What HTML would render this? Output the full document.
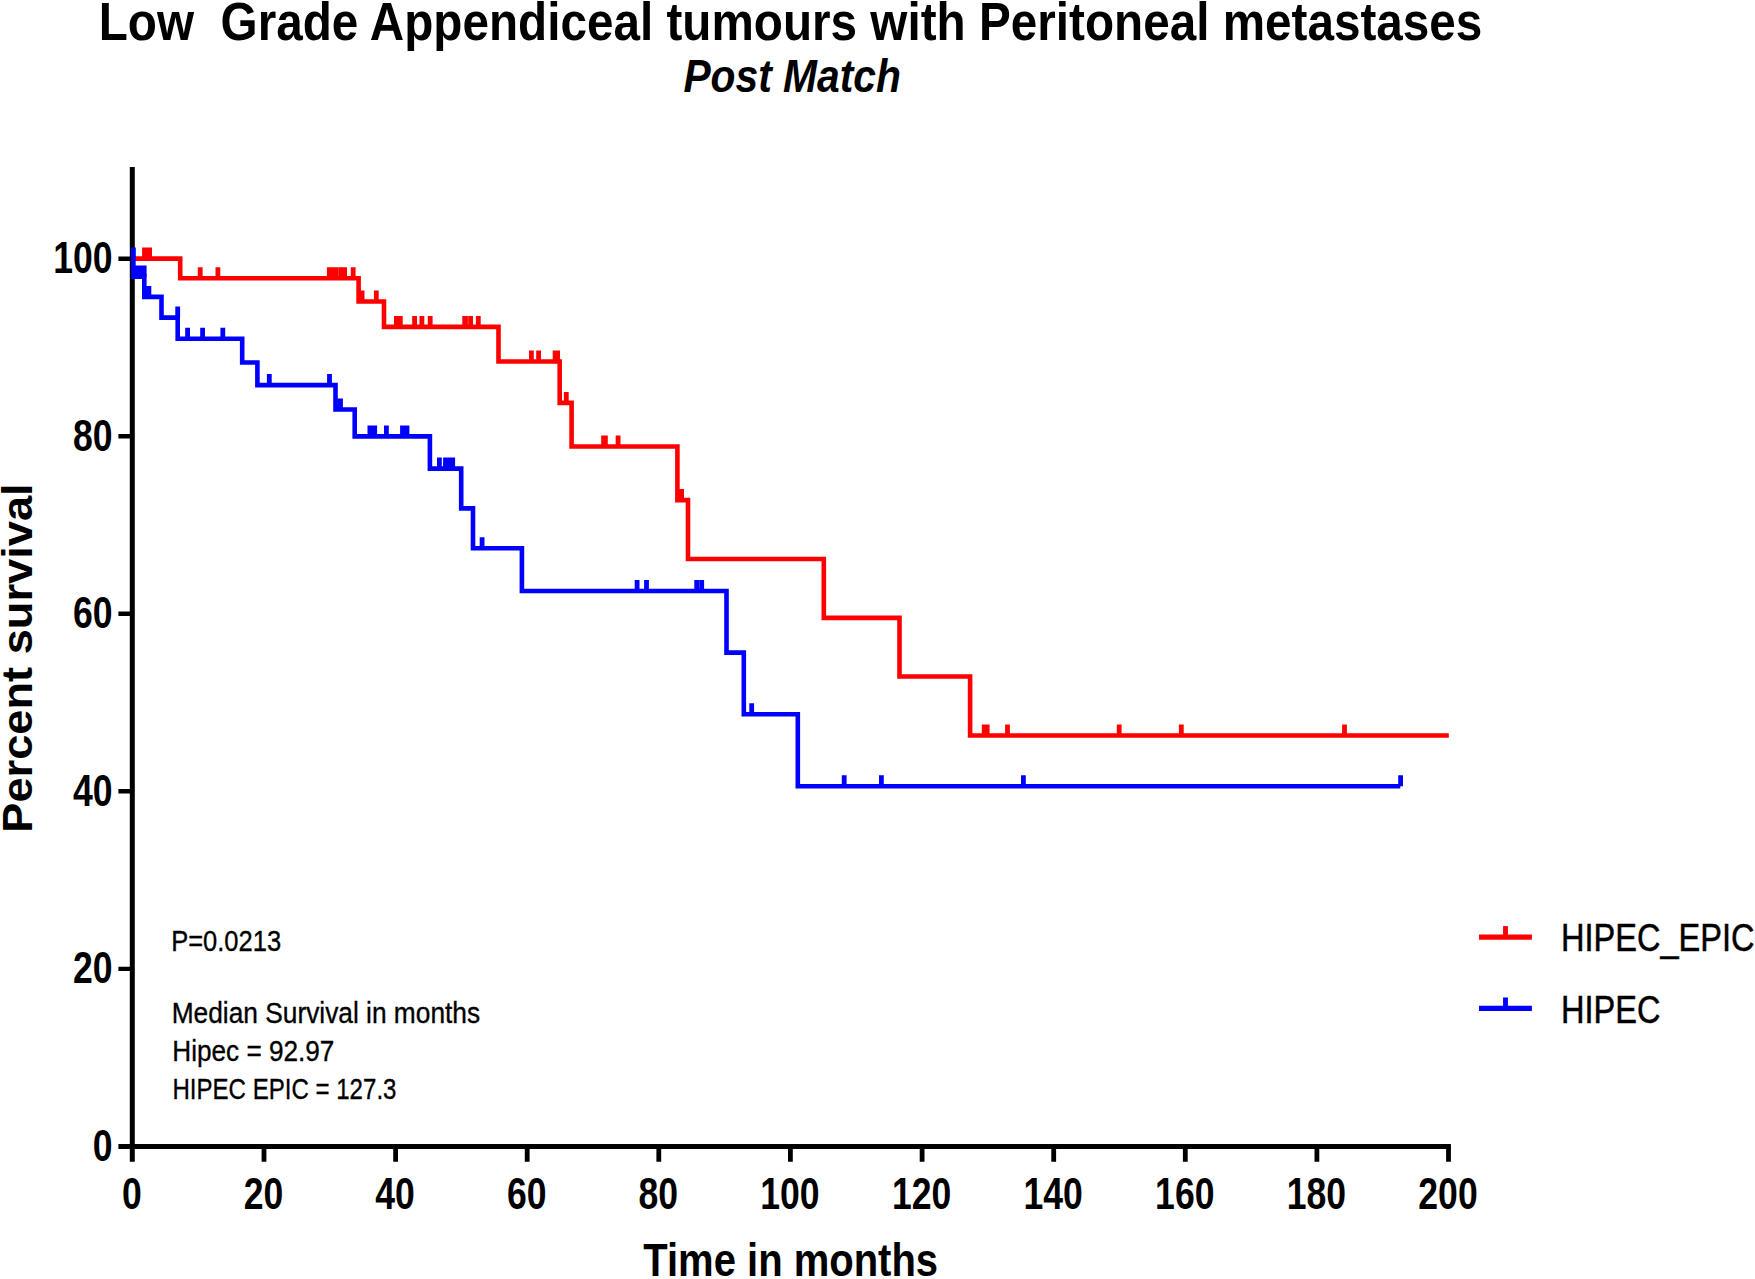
<!DOCTYPE html>
<html lang="en"><head><meta charset="utf-8"><title>Low Grade Appendiceal tumours with Peritoneal metastases</title>
<style>html,body{margin:0;padding:0;background:#fff}body{width:1755px;height:1279px;overflow:hidden}svg{display:block}text{font-family:"Liberation Sans",sans-serif;fill:#000;white-space:pre}.b{font-weight:bold}.bi{font-weight:bold;font-style:italic}</style></head><body>
<svg width="1755" height="1279" viewBox="0 0 1755 1279">
<rect width="1755" height="1279" fill="#fff"/>
<g stroke="#000" fill="none" stroke-linecap="butt">
<path d="M132.3 167 V1161.7" stroke-width="5"/>
<path d="M118.4 1146.4 H1450.9" stroke-width="5"/>
<path d="M118.4 968.9 H132.4 M118.4 791.3 H132.4 M118.4 613.8 H132.4 M118.4 436.2 H132.4 M118.4 258.7 H132.4" stroke-width="4.4"/>
<path d="M264.0 1146.4 V1161.7 M395.6 1146.4 V1161.7 M527.2 1146.4 V1161.7 M658.8 1146.4 V1161.7 M790.4 1146.4 V1161.7 M922.1 1146.4 V1161.7 M1053.7 1146.4 V1161.7 M1185.3 1146.4 V1161.7 M1316.9 1146.4 V1161.7 M1448.5 1146.4 V1161.7" stroke-width="4.8"/>
</g>
<g fill="none" stroke-linejoin="miter" stroke-linecap="butt">
<path d="M133.0 258.6 H180.2 V278.2 H358.6 V301.5 H384.0 V326.9 H498.5 V361.5 H559.7 V402.9 H571.6 V446.5 H677.4 V500.1 H688.0 V559.0 H823.8 V617.9 H899.5 V676.5 H970.1 V735.5 H1448.8" stroke="#f00" stroke-width="4.6"/>
<path d="M144.5 258.6 V247.6 M147.0 258.6 V247.6 M149.6 258.6 V247.6 M200.2 278.2 V267.2 M217.9 278.2 V267.2 M329.3 278.2 V267.2 M333.0 278.2 V267.2 M336.3 278.2 V267.2 M341.3 278.2 V267.2 M344.6 278.2 V267.2 M353.2 278.2 V267.2 M362.1 301.5 V290.5 M376.3 301.5 V290.5 M396.4 326.9 V315.9 M400.3 326.9 V315.9 M414.6 326.9 V315.9 M421.9 326.9 V315.9 M430.2 326.9 V315.9 M464.7 326.9 V315.9 M465.5 326.9 V315.9 M470.6 326.9 V315.9 M478.3 326.9 V315.9 M531.4 361.5 V350.5 M538.6 361.5 V350.5 M555.1 361.5 V350.5 M557.6 361.5 V350.5 M566.3 402.9 V391.9 M603.6 446.5 V435.5 M605.4 446.5 V435.5 M618.1 446.5 V435.5 M680.6 500.1 V489.1 M681.6 500.1 V489.1 M984.2 735.5 V724.5 M987.2 735.5 V724.5 M1007.5 735.5 V724.5 M1119.2 735.5 V724.5 M1181.3 735.5 V724.5 M1344.5 735.5 V724.5" stroke="#f00" stroke-width="4.8"/>
<path d="M133.4 258.6 H133.4 V276.6 H144.3 V296.9 H161.5 V317.6 H177.7 V338.7 H242.2 V362.5 H257.4 V385.1 H335.5 V409.5 H354.7 V436.4 H429.9 V468.6 H461.2 V508.4 H473.0 V548.3 H521.9 V591.0 H726.5 V652.6 H743.8 V714.3 H797.8 V786.2 H1400.3" stroke="#00f" stroke-width="4.6"/>
<path d="M133.4 258.6 V247.6 M135.8 276.6 V265.6 M139.0 276.6 V265.6 M141.5 276.6 V265.6 M144.2 276.6 V265.6 M146.5 296.9 V285.9 M148.9 296.9 V285.9 M177.7 317.6 V306.6 M187.6 338.7 V327.7 M202.6 338.7 V327.7 M222.8 338.7 V327.7 M269.3 385.1 V374.1 M329.5 385.1 V374.1 M339.6 409.5 V398.5 M340.5 409.5 V398.5 M369.9 436.4 V425.4 M374.7 436.4 V425.4 M386.4 436.4 V425.4 M402.5 436.4 V425.4 M407.0 436.4 V425.4 M439.4 468.6 V457.6 M445.5 468.6 V457.6 M449.1 468.6 V457.6 M452.7 468.6 V457.6 M482.1 548.3 V537.3 M637.1 591.0 V580.0 M646.5 591.0 V580.0 M696.7 591.0 V580.0 M701.7 591.0 V580.0 M751.7 714.3 V703.3 M844.2 786.2 V775.2 M881.4 786.2 V775.2 M1023.4 786.2 V775.2 M1400.6 786.2 V775.2" stroke="#00f" stroke-width="4.8"/>
<path d="M1479 937.2 H1531.9" stroke="#f00" stroke-width="5.2"/><path d="M1505.5 937.2 V926.1" stroke="#f00" stroke-width="4.9"/>
<path d="M1479 1008.4 H1531.9" stroke="#00f" stroke-width="5.2"/><path d="M1505.5 1008.4 V997.5" stroke="#00f" stroke-width="4.9"/>
</g>
<text class="b" transform="translate(98.75 39.50) scale(0.8845 1)" font-size="53.90" text-anchor="start" xml:space="preserve">Low  Grade Appendiceal tumours with Peritoneal metastases</text>
<text class="bi" transform="translate(683.38 92.20) scale(0.8774 1)" font-size="46.50" text-anchor="start" xml:space="preserve">Post Match</text>
<text class="b" transform="translate(32.10 832.70) rotate(-90) scale(1.0564 1)" font-size="42.80" text-anchor="start" xml:space="preserve">Percent survival</text>
<text class="b" transform="translate(643.30 1275.65) scale(0.8605 1)" font-size="46.50" text-anchor="start" xml:space="preserve">Time in months</text>
<text class="b" transform="translate(112.50 1160.90) scale(0.7900 1)" font-size="45.00" text-anchor="end" xml:space="preserve">0</text>
<text class="b" transform="translate(112.50 983.36) scale(0.7900 1)" font-size="45.00" text-anchor="end" xml:space="preserve">20</text>
<text class="b" transform="translate(112.50 805.82) scale(0.7900 1)" font-size="45.00" text-anchor="end" xml:space="preserve">40</text>
<text class="b" transform="translate(112.50 628.28) scale(0.7900 1)" font-size="45.00" text-anchor="end" xml:space="preserve">60</text>
<text class="b" transform="translate(112.50 450.74) scale(0.7900 1)" font-size="45.00" text-anchor="end" xml:space="preserve">80</text>
<text class="b" transform="translate(112.50 273.20) scale(0.7900 1)" font-size="45.00" text-anchor="end" xml:space="preserve">100</text>
<text class="b" transform="translate(131.90 1208.60) scale(0.7900 1)" font-size="45.00" text-anchor="middle" xml:space="preserve">0</text>
<text class="b" transform="translate(263.51 1208.60) scale(0.7900 1)" font-size="45.00" text-anchor="middle" xml:space="preserve">20</text>
<text class="b" transform="translate(395.12 1208.60) scale(0.7900 1)" font-size="45.00" text-anchor="middle" xml:space="preserve">40</text>
<text class="b" transform="translate(526.73 1208.60) scale(0.7900 1)" font-size="45.00" text-anchor="middle" xml:space="preserve">60</text>
<text class="b" transform="translate(658.34 1208.60) scale(0.7900 1)" font-size="45.00" text-anchor="middle" xml:space="preserve">80</text>
<text class="b" transform="translate(789.95 1208.60) scale(0.7900 1)" font-size="45.00" text-anchor="middle" xml:space="preserve">100</text>
<text class="b" transform="translate(921.56 1208.60) scale(0.7900 1)" font-size="45.00" text-anchor="middle" xml:space="preserve">120</text>
<text class="b" transform="translate(1053.17 1208.60) scale(0.7900 1)" font-size="45.00" text-anchor="middle" xml:space="preserve">140</text>
<text class="b" transform="translate(1184.78 1208.60) scale(0.7900 1)" font-size="45.00" text-anchor="middle" xml:space="preserve">160</text>
<text class="b" transform="translate(1316.39 1208.60) scale(0.7900 1)" font-size="45.00" text-anchor="middle" xml:space="preserve">180</text>
<text class="b" transform="translate(1448.00 1208.60) scale(0.7900 1)" font-size="45.00" text-anchor="middle" xml:space="preserve">200</text>
<text transform="translate(171.14 951.40) scale(0.8511 1)" font-size="30.00" text-anchor="start" stroke="#000" stroke-width="0.35" xml:space="preserve">P=0.0213</text>
<text transform="translate(171.71 1022.60) scale(0.8768 1)" font-size="30.00" text-anchor="start" stroke="#000" stroke-width="0.35" xml:space="preserve">Median Survival in months</text>
<text transform="translate(172.33 1060.90) scale(0.8719 1)" font-size="30.00" text-anchor="start" stroke="#000" stroke-width="0.35" xml:space="preserve">Hipec = 92.97</text>
<text transform="translate(172.42 1099.00) scale(0.8024 1)" font-size="30.00" text-anchor="start" stroke="#000" stroke-width="0.35" xml:space="preserve">HIPEC EPIC = 127.3</text>
<text transform="translate(1561.00 951.10) scale(0.8350 1)" font-size="39.00" text-anchor="start" stroke="#000" stroke-width="0.5" xml:space="preserve">HIPEC_EPIC</text>
<text transform="translate(1561.00 1023.10) scale(0.8350 1)" font-size="39.00" text-anchor="start" stroke="#000" stroke-width="0.5" xml:space="preserve">HIPEC</text>
</svg></body></html>
